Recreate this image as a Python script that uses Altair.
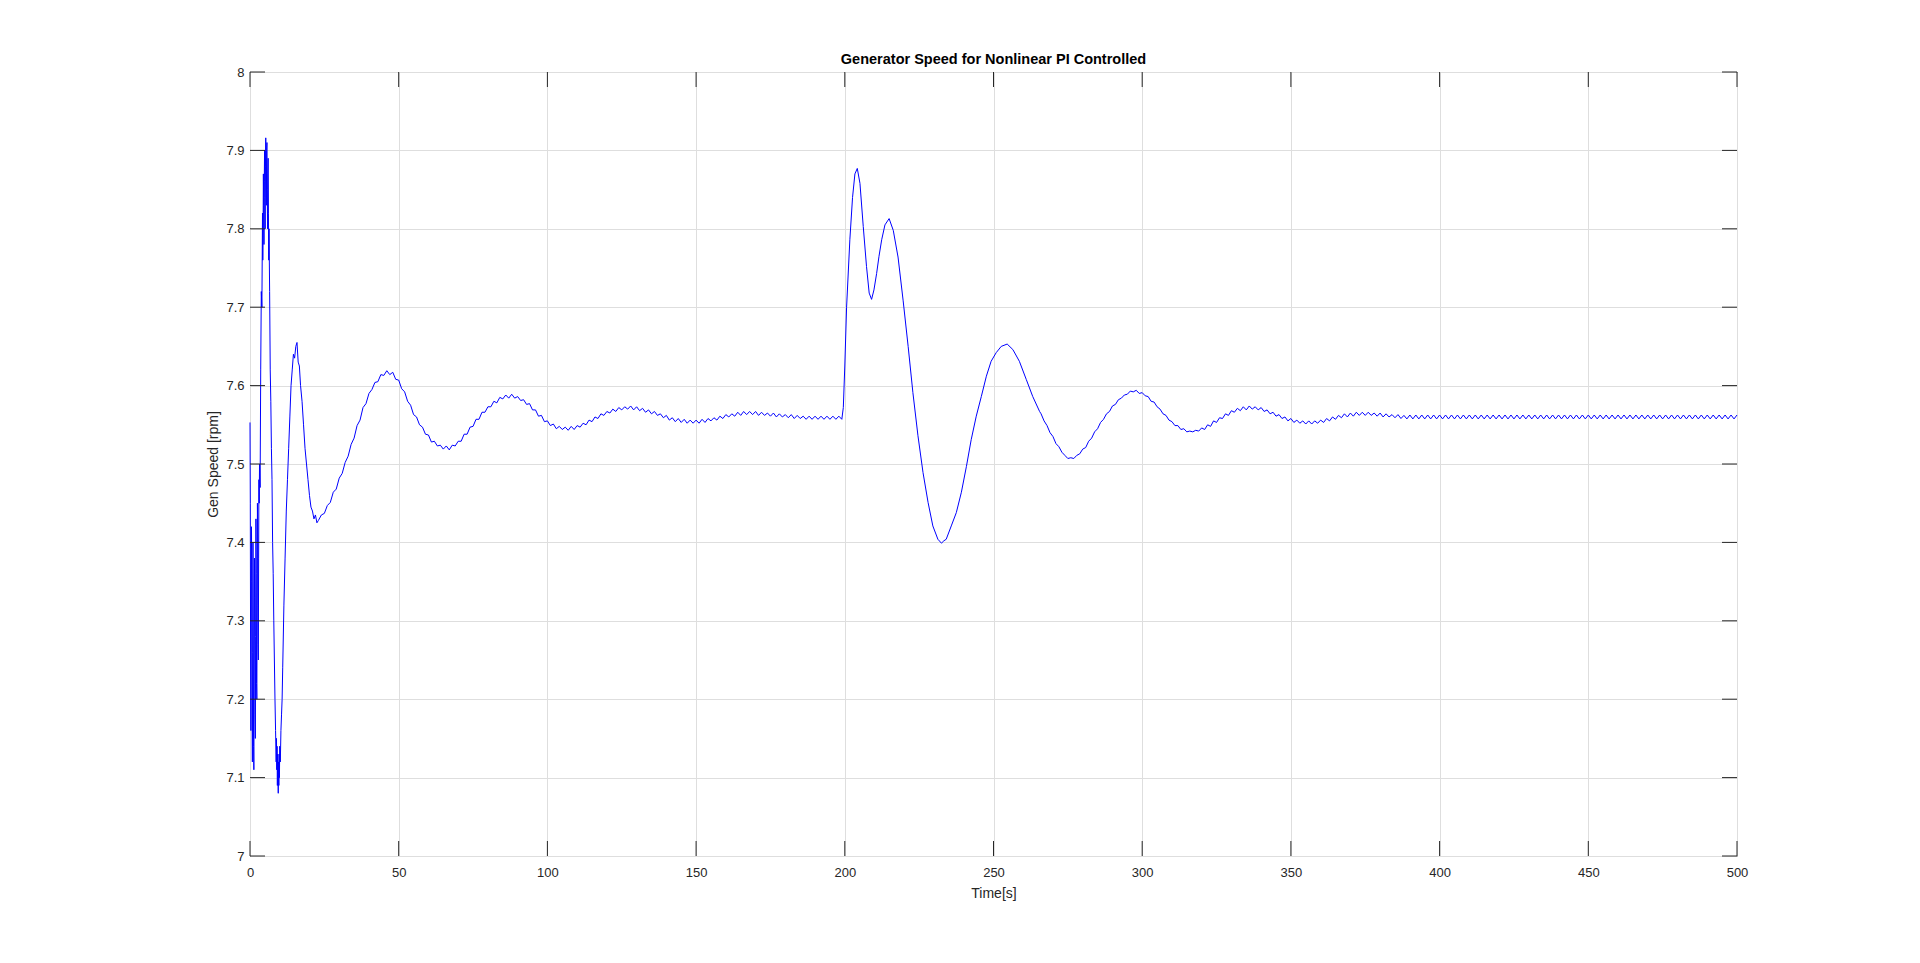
import altair as alt
import pandas as pd

TITLE = "Generator Speed for Nonlinear PI Controlled"
X_TITLE = "Time[s]"
Y_TITLE = "Gen Speed [rpm]"

x_ticks = [0, 50, 100, 150, 200, 250, 300, 350, 400, 450, 500]
y_ticks = [7.0, 7.1, 7.2, 7.3, 7.4, 7.5, 7.6, 7.7, 7.8, 7.9, 8.0]

# 0 - 23 s : start-up transient
early_t = [0.0, 0.1, 0.2, 0.3, 0.4, 0.5, 0.6, 0.7, 0.8, 0.9,
           1.0, 1.1, 1.2, 1.3, 1.4, 1.5, 1.6, 1.7, 1.8, 1.9,
           2.0, 2.1, 2.2, 2.3, 2.4, 2.5, 2.6, 2.7, 2.8, 2.9,
           3.0, 3.1, 3.2, 3.4, 3.6, 3.8, 4.0, 4.2, 4.3, 4.4,
           4.5, 4.6, 4.7, 4.8, 4.9, 5.0, 5.1, 5.2, 5.3, 5.4,
           5.5, 5.6, 5.7, 5.8, 5.9, 6.0, 6.1, 6.2, 6.3, 6.4,
           6.6, 6.8, 7.0, 7.2, 7.4, 7.6, 7.8, 8.0, 8.2, 8.4,
           8.6, 8.8, 8.9, 9.0, 9.1, 9.2, 9.3, 9.4, 9.5, 9.6,
           9.7, 9.8, 9.9, 10.0, 10.2, 10.4, 10.6, 10.8, 11.0,
           11.4, 11.8, 12.2, 12.6, 13.0, 13.4, 13.8, 14.2, 14.6, 15.0, 15.4, 15.8,
           16.2, 16.6, 17.0, 17.5, 18.0, 18.5, 19.0, 19.5, 20.0, 20.5, 21.0, 21.5,
           22.0, 22.5, 23.0]
early_v = [7.553, 7.45, 7.25, 7.16, 7.30, 7.42, 7.35, 7.18, 7.12, 7.26,
           7.40, 7.30, 7.14, 7.11, 7.25, 7.38, 7.33, 7.18, 7.15, 7.28,
           7.43, 7.36, 7.22, 7.20, 7.32, 7.45, 7.40, 7.27, 7.25, 7.38,
           7.48, 7.45, 7.50, 7.47, 7.62, 7.72, 7.70, 7.82, 7.76, 7.80,
           7.87, 7.83, 7.78, 7.86, 7.90, 7.84, 7.80, 7.88, 7.916, 7.87,
           7.83, 7.90, 7.91, 7.85, 7.80, 7.87, 7.89, 7.82, 7.76, 7.80,
           7.72, 7.62, 7.58, 7.52, 7.48, 7.40, 7.36, 7.30, 7.25, 7.20,
           7.16, 7.12, 7.15, 7.11, 7.14, 7.09, 7.13, 7.10, 7.08, 7.12,
           7.09, 7.13, 7.10, 7.14, 7.12, 7.16, 7.18, 7.20, 7.24,
           7.32, 7.38, 7.44, 7.48, 7.52, 7.56, 7.60, 7.62, 7.64, 7.635, 7.65, 7.655,
           7.63, 7.625, 7.60, 7.58, 7.55, 7.52, 7.50, 7.48, 7.46, 7.445, 7.44, 7.43,
           7.435, 7.425, 7.428]

# 24 - 199 s, one sample per second
seg_a_start = 24
seg_a_v = [
    7.435, 7.437, 7.447, 7.451, 7.464, 7.468, 7.482, 7.488, 7.502, 7.510,
    7.525, 7.533, 7.549, 7.556, 7.572, 7.577, 7.590, 7.595, 7.604, 7.605,
    7.614, 7.613, 7.619, 7.614, 7.617, 7.608, 7.607, 7.596, 7.592, 7.580,
    7.575, 7.563, 7.560, 7.550, 7.547, 7.538, 7.537, 7.528, 7.529, 7.523,
    7.524, 7.519, 7.523, 7.518, 7.524, 7.523, 7.529, 7.529, 7.538, 7.538,
    7.547, 7.548, 7.557, 7.557, 7.566, 7.566, 7.573, 7.573, 7.580, 7.578,
    7.585, 7.583, 7.588, 7.584, 7.589, 7.584, 7.586, 7.581, 7.582, 7.576,
    7.577, 7.569, 7.569, 7.561, 7.562, 7.554, 7.555, 7.549, 7.551, 7.545,
    7.548, 7.544, 7.547, 7.543, 7.548, 7.544, 7.549, 7.547, 7.552, 7.550,
    7.556, 7.554, 7.560, 7.558, 7.564, 7.562, 7.567, 7.565, 7.570, 7.567,
    7.572, 7.569, 7.573, 7.570, 7.574, 7.569, 7.573, 7.568, 7.571, 7.566,
    7.569, 7.564, 7.567, 7.562, 7.564, 7.559, 7.562, 7.556, 7.559, 7.554,
    7.558, 7.553, 7.557, 7.552, 7.556, 7.552, 7.556, 7.552, 7.557, 7.553,
    7.558, 7.555, 7.559, 7.556, 7.561, 7.558, 7.563, 7.560, 7.564, 7.561,
    7.566, 7.562, 7.567, 7.563, 7.567, 7.563, 7.567, 7.562, 7.566, 7.562,
    7.565, 7.561, 7.565, 7.560, 7.564, 7.560, 7.563, 7.559, 7.563, 7.558,
    7.562, 7.558, 7.561, 7.557, 7.561, 7.557, 7.561, 7.557, 7.561, 7.557,
    7.561, 7.557, 7.561, 7.557, 7.561, 7.557,
]

# 199.5 - 265.5 s : load-step transient
step_t = [199.5, 200.0, 200.6, 201.7, 202.6, 203.4, 204.2, 205.1, 206.2, 207.3,
          208.2, 209.0, 209.8, 210.7, 211.5, 212.4, 213.5, 214.9, 216.3, 217.9,
          219.6, 221.3, 222.9, 224.6, 226.3, 228.0, 229.6, 231.3, 232.5, 233.3,
          234.1, 235.8, 237.5, 239.2, 240.9, 242.5, 244.2, 245.9, 247.6, 249.2,
          250.9, 252.6, 254.6, 256.5, 258.7, 261.0, 263.2, 265.5]
step_v = [7.572, 7.625, 7.700, 7.786, 7.840, 7.870, 7.877, 7.858, 7.803, 7.752,
          7.718, 7.710, 7.722, 7.743, 7.765, 7.786, 7.805, 7.813, 7.798, 7.764,
          7.709, 7.650, 7.591, 7.536, 7.489, 7.451, 7.421, 7.404, 7.399, 7.402,
          7.404, 7.421, 7.438, 7.464, 7.497, 7.531, 7.561, 7.586, 7.612, 7.631,
          7.642, 7.650, 7.653, 7.646, 7.631, 7.608, 7.586, 7.567]

# 266 - 500 s, one sample per second
seg_c_start = 266
seg_c_v = [
    7.564, 7.555, 7.549, 7.540, 7.535, 7.526, 7.522, 7.515, 7.511, 7.507,
    7.508, 7.507, 7.511, 7.513, 7.519, 7.521, 7.529, 7.533, 7.541, 7.545,
    7.553, 7.557, 7.564, 7.567, 7.574, 7.576, 7.582, 7.584, 7.588, 7.589,
    7.593, 7.592, 7.594, 7.590, 7.591, 7.587, 7.586, 7.580, 7.579, 7.573,
    7.570, 7.564, 7.562, 7.556, 7.554, 7.549, 7.549, 7.544, 7.545, 7.541,
    7.542, 7.541, 7.543, 7.542, 7.546, 7.544, 7.550, 7.548, 7.555, 7.553,
    7.559, 7.558, 7.564, 7.562, 7.568, 7.566, 7.571, 7.568, 7.573, 7.569,
    7.574, 7.570, 7.573, 7.569, 7.572, 7.567, 7.569, 7.564, 7.566, 7.561,
    7.563, 7.558, 7.560, 7.555, 7.558, 7.553, 7.556, 7.552, 7.555, 7.551,
    7.555, 7.551, 7.555, 7.552, 7.556, 7.553, 7.558, 7.555, 7.560, 7.557,
    7.562, 7.559, 7.564, 7.560, 7.565, 7.561, 7.566, 7.562, 7.566, 7.562,
    7.566, 7.562, 7.565, 7.561, 7.565, 7.560, 7.564, 7.560, 7.563, 7.559,
    7.563, 7.558, 7.562,
    7.5575, 7.5625, 7.5575, 7.5625, 7.5575, 7.5625, 7.5575, 7.5625,
    7.5575, 7.5625, 7.5575, 7.5625, 7.5575, 7.5625, 7.5575, 7.5625,
    7.5575, 7.5625, 7.5575, 7.5625, 7.5575, 7.5625, 7.5575, 7.5625,
    7.5575, 7.5625, 7.5575, 7.5625, 7.5575, 7.5625, 7.5575, 7.5625,
    7.5575, 7.5625, 7.5575, 7.5625, 7.5575, 7.5625, 7.5575, 7.5625,
    7.5575, 7.5625, 7.5575, 7.5625, 7.5575, 7.5625, 7.5575, 7.5625,
    7.5575, 7.5625, 7.5575, 7.5625, 7.5575, 7.5625, 7.5575, 7.5625,
    7.5575, 7.5625, 7.5575, 7.5625, 7.5575, 7.5625, 7.5575, 7.5625,
    7.5575, 7.5625, 7.5575, 7.5625, 7.5575, 7.5625, 7.5575, 7.5625,
    7.5575, 7.5625, 7.5575, 7.5625, 7.5575, 7.5625, 7.5575, 7.5625,
    7.5575, 7.5625, 7.5575, 7.5625, 7.5575, 7.5625, 7.5575, 7.5625,
    7.5575, 7.5625, 7.5575, 7.5625, 7.5575, 7.5625, 7.5575, 7.5625,
    7.5575, 7.5625, 7.5575, 7.5625, 7.5575, 7.5625, 7.5575, 7.5625,
    7.5575, 7.5625, 7.5575, 7.5625, 7.5575, 7.5625, 7.5575, 7.5625,
]

seg_a_t = list(range(seg_a_start, seg_a_start + len(seg_a_v)))
seg_c_t = list(range(seg_c_start, seg_c_start + len(seg_c_v)))

rows = []
for tt, vv in zip(early_t, early_v):
    rows.append((tt, vv))
for tt, vv in zip(seg_a_t, seg_a_v):
    rows.append((tt, vv))
for tt, vv in zip(step_t, step_v):
    rows.append((tt, vv))
for tt, vv in zip(seg_c_t, seg_c_v):
    rows.append((tt, vv))
df = pd.DataFrame(rows, columns=["t", "v"])
df["i"] = range(len(df))

W, H = 1487, 784
TICK = 15
FONT = "Liberation Sans"
AX = "#262626"
GRID = "#dedede"

x_scale = alt.Scale(domain=[0, 500], nice=False, zero=False)
y_scale = alt.Scale(domain=[7, 8], nice=False, zero=False)

x_axis = alt.Axis(values=x_ticks, title=X_TITLE, grid=True, gridColor=GRID,
                  gridOpacity=1, ticks=False, domain=False, labelPadding=10,
                  titlePadding=7, format="d", labelFont=FONT, labelFontSize=13,
                  labelColor=AX, titleFont=FONT, titleFontSize=14,
                  titleFontWeight="normal", titleColor=AX, labelFlush=False)
y_axis = alt.Axis(values=y_ticks, title=Y_TITLE, grid=True, gridColor=GRID,
                  gridOpacity=1, ticks=False, domain=False, labelPadding=6,
                  titlePadding=5, format=".1~f", labelFont=FONT, labelFontSize=13,
                  labelColor=AX, titleFont=FONT, titleFontSize=14,
                  titleFontWeight="normal", titleColor=AX, labelFlush=False)

line = alt.Chart(df).mark_line(color="#0000ff", strokeWidth=1).encode(
    x=alt.X("t:Q", scale=x_scale, axis=x_axis),
    y=alt.Y("v:Q", scale=y_scale, axis=y_axis),
    order="i:Q",
)

xt = pd.DataFrame({"t": x_ticks})
yt = pd.DataFrame({"v": y_ticks})

x_tick_bottom = alt.Chart(xt).mark_rule(color=AX, strokeWidth=1).encode(
    x=alt.X("t:Q", scale=x_scale, axis=x_axis),
    y=alt.value(H), y2=alt.value(H - TICK))
x_tick_top = alt.Chart(xt).mark_rule(color=AX, strokeWidth=1).encode(
    x=alt.X("t:Q", scale=x_scale, axis=x_axis),
    y=alt.value(0), y2=alt.value(TICK))
y_tick_left = alt.Chart(yt).mark_rule(color=AX, strokeWidth=1).encode(
    y=alt.Y("v:Q", scale=y_scale, axis=y_axis),
    x=alt.value(0), x2=alt.value(TICK))
y_tick_right = alt.Chart(yt).mark_rule(color=AX, strokeWidth=1).encode(
    y=alt.Y("v:Q", scale=y_scale, axis=y_axis),
    x=alt.value(W), x2=alt.value(W - TICK))

chart = alt.layer(line, x_tick_bottom, x_tick_top, y_tick_left, y_tick_right).properties(
    width=W,
    height=H,
    autosize=alt.AutoSizeParams(type="none"),
    padding={"left": 242, "top": 64, "right": 120, "bottom": 70},
    background="white",
    title=alt.TitleParams(TITLE, font=FONT, fontSize=14.5, fontWeight="bold",
                          color="#000000", anchor="middle", baseline="bottom", offset=-15),
).configure_view(stroke=AX, strokeWidth=1)

chart.save("out.html", embed_options={"renderer": "svg", "actions": False})
